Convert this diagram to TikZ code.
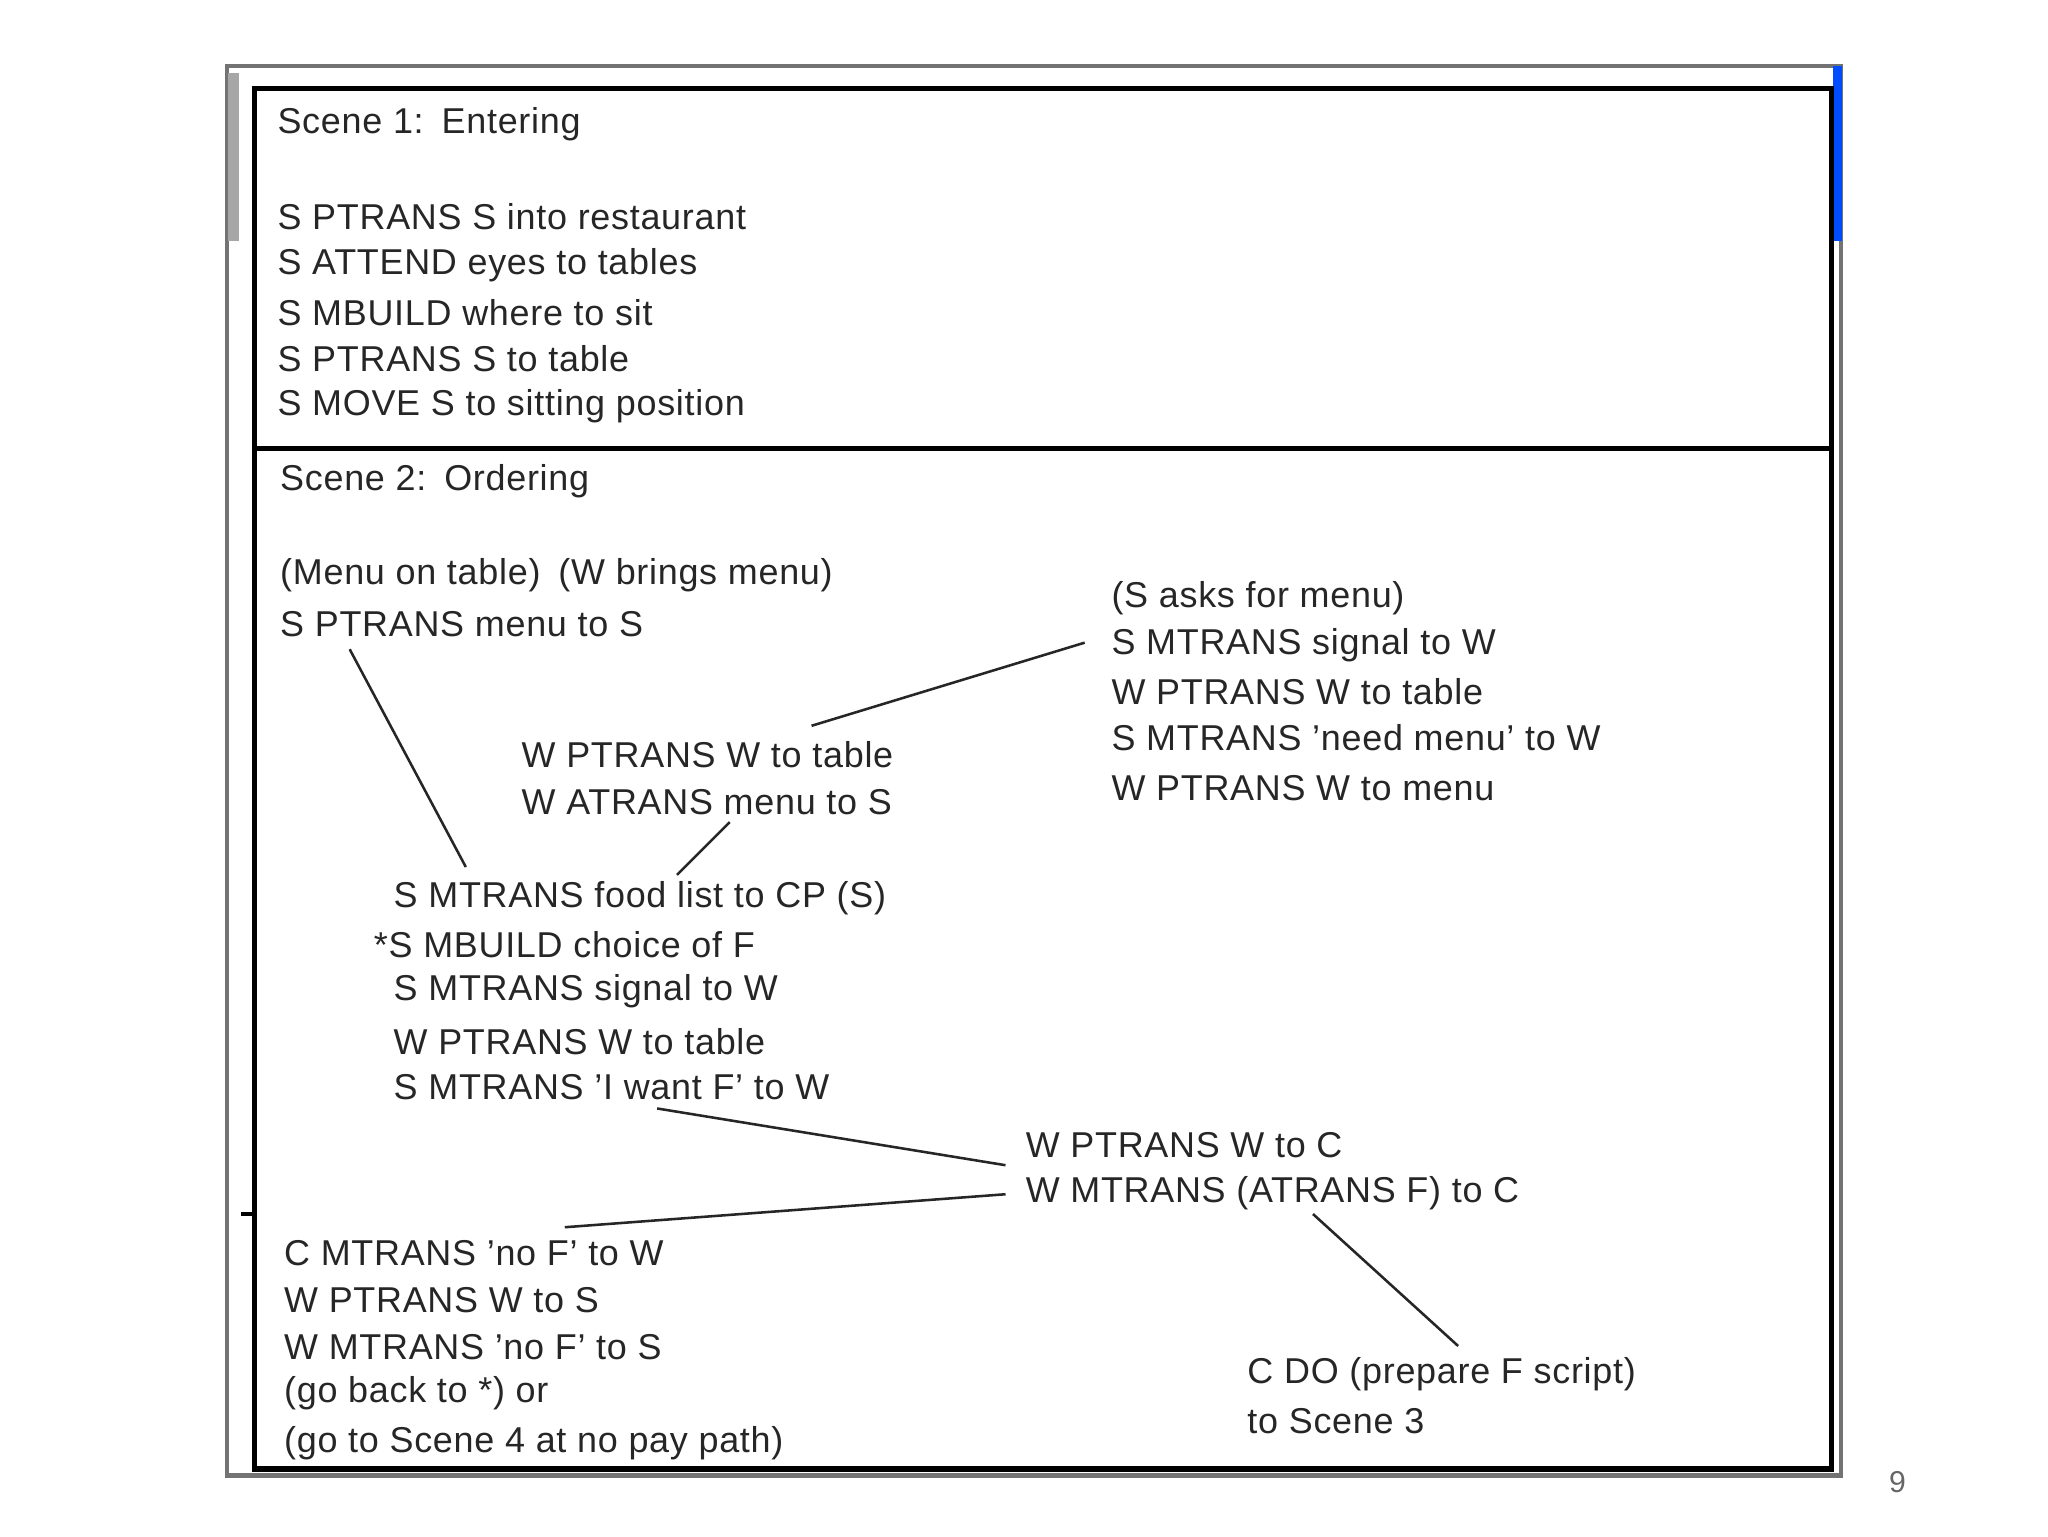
\documentclass[tikz,border=0pt]{standalone}
\usepackage{fontspec}
\setmainfont{Liberation Sans}[LetterSpace=2]
\begin{document}
\begin{tikzpicture}[x=0.02cm,y=-0.02cm,
  t/.style={anchor=west,inner sep=0pt,font=\fontsize{15.5}{18}\selectfont,text=black!85},
  ln/.style={line width=1.1pt,black!85}]
\useasboundingbox (0,0) rectangle (1552,1164);
\draw[line width=2pt,black!55] (172,50) rectangle (1395,1118);
\fill[black!35] (173,55) rectangle (181,183);
\fill[blue!70!cyan] (1389,50) rectangle (1396,183);
\draw[line width=2.4pt] (193,67) rectangle (1388,1113);
\draw[line width=2.4pt] (193,340) -- (1388,340);
\draw[line width=2pt] (183,920) -- (193,920);
\node[t] (s1) at (210,94) {Scene 1:\enspace Entering};
\node[t] (a1) at (210,164) {S PTRANS S into restaurant};
\node[t] (a2) at (210,201) {S ATTEND eyes to tables};
\node[t] (a3) at (210,237) {S MBUILD where to sit};
\node[t] (a4) at (210,272) {S PTRANS S to table};
\node[t] (a5) at (210,308) {S MOVE S to sitting position};
\node[t] (s2) at (212,365) {Scene 2:\enspace Ordering};
\node[t] (b1) at (212,436) {(Menu on table)\enspace(W brings menu)};
\node[t] (b2) at (212,473) {S PTRANS menu to S};
\node[t] (c1) at (842,453) {(S asks for menu)};
\node[t] (c2) at (842,489) {S MTRANS signal to W};
\node[t] (c3) at (842,524) {W PTRANS W to table};
\node[t] (c4) at (842,559) {S MTRANS 'need menu' to W};
\node[t] (c5) at (842,597) {W PTRANS W to menu};
\node[t] (d1) at (395,572) {W PTRANS W to table};
\node[t] (d2) at (395,608) {W ATRANS menu to S};
\node[t] (e1) at (298,681) {S MTRANS food list to CP (S)};
\node[t] (e2) at (283,716) {*S MBUILD choice of F};
\node[t] (e3) at (298,751) {S MTRANS signal to W};
\node[t] (e4) at (298,789) {W PTRANS W to table};
\node[t] (e5) at (298,824) {S MTRANS 'I want F' to W};
\node[t] (f1) at (777,868) {W PTRANS W to C};
\node[t] (f2) at (777,904) {W MTRANS (ATRANS F) to C};
\node[t] (g1) at (215,950) {C MTRANS 'no F' to W};
\node[t] (g2) at (215,985) {W PTRANS W to S};
\node[t] (g3) at (215,1021) {W MTRANS 'no F' to S};
\node[t] (g4) at (215,1056) {(go back to *) or};
\node[t] (g5) at (215,1094) {(go to Scene 4 at no pay path)};
\node[t] (h1) at (945,1041) {C DO (prepare F script)};
\node[t] (h2) at (945,1077) {to Scene 3};
\node[anchor=center,font=\fontsize{13}{15}\selectfont,text=black!60] (pg) at (1438,1123) {9};
\coordinate (p1) at (265,492); \coordinate (p2) at (353,657);
\coordinate (q1) at (615,550); \coordinate (q2) at (822,487);
\coordinate (r1) at (553,623); \coordinate (r2) at (513,663);
\coordinate (u1) at (498,840); \coordinate (u2) at (762,883);
\coordinate (v1) at (428,930); \coordinate (v2) at (762,905);
\coordinate (w1) at (995,920); \coordinate (w2) at (1105,1020);
\draw[ln] (p1) -- (p2); \draw[ln] (q1) -- (q2); \draw[ln] (r1) -- (r2);
\draw[ln] (u1) -- (u2); \draw[ln] (v1) -- (v2); \draw[ln] (w1) -- (w2);
\end{tikzpicture}
\end{document}
